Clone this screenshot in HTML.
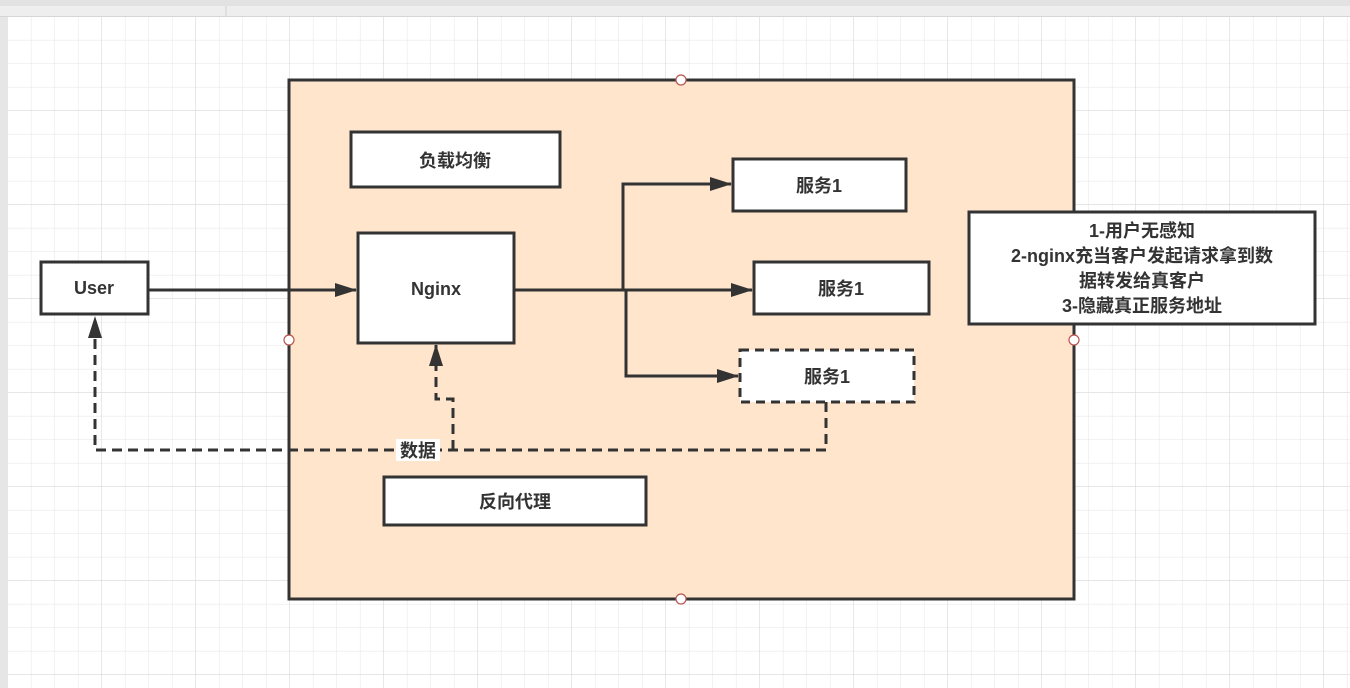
<!DOCTYPE html>
<html><head><meta charset="utf-8"><style>
html,body{margin:0;padding:0;width:1350px;height:688px;overflow:hidden;background:#fff}
svg{display:block}
text{font-family:"Liberation Sans","Noto Sans CJK SC",sans-serif;font-weight:bold;fill:#333;font-size:18px}
</style></head><body>
<svg width="1350" height="688" viewBox="0 0 1350 688" xmlns="http://www.w3.org/2000/svg">
<defs>
<pattern id="minor" width="23.5" height="23.5" patternUnits="userSpaceOnUse" x="8" y="17">
<path d="M23.5 0V23.5M0 23.5H23.5" stroke="#e9e9e9" stroke-width="1.2" fill="none"/>
</pattern>
<pattern id="major" width="94" height="94" patternUnits="userSpaceOnUse" x="8" y="17">
<path d="M94 0V94M0 94H94" stroke="#dadada" stroke-width="1.2" fill="none"/>
</pattern>
<marker id="ar2" markerWidth="22" markerHeight="14" refX="21" refY="7" orient="auto" markerUnits="userSpaceOnUse" viewBox="0 0 22 14">
<path d="M0 0L22 7L0 14Z" fill="#333"/>
</marker>
</defs>
<rect x="0" y="0" width="1350" height="6" fill="#e2e2e2"/>
<rect x="0" y="6" width="1350" height="11" fill="#eeeeee"/>
<line x1="0" y1="16.5" x2="1350" y2="16.5" stroke="#d6d6d6"/>
<line x1="226" y1="6" x2="226" y2="16" stroke="#d0d0d0"/>
<rect x="0" y="17" width="8" height="671" fill="#e6e6e6"/>
<rect x="8" y="17" width="1342" height="671" fill="#fff"/>
<rect x="8" y="17" width="1342" height="671" fill="url(#minor)"/>
<rect x="8" y="17" width="1342" height="671" fill="url(#major)"/>

<rect x="289" y="80" width="785" height="519" fill="#ffe5cc" stroke="#333" stroke-width="3"/>

<g stroke="#333" stroke-width="3" fill="#fff">
<rect x="351" y="132" width="209" height="55"/>
<rect x="358" y="233" width="156" height="110"/>
<rect x="41" y="262" width="107" height="52"/>
<rect x="733" y="159" width="173" height="52"/>
<rect x="754" y="262" width="175" height="52"/>
<rect x="740" y="350" width="174" height="52" stroke-dasharray="9,6"/>
<rect x="969" y="212" width="346" height="112"/>
<rect x="384" y="477" width="262" height="48"/>
</g>

<g stroke="#333" stroke-width="3" fill="none">
<path d="M148 290H356" marker-end="url(#ar2)"/>
<path d="M514 290H752" marker-end="url(#ar2)"/>
<path d="M623 290V184H731" marker-end="url(#ar2)"/>
<path d="M626 290V376H738" marker-end="url(#ar2)"/>
<path d="M826 402V450H95V317" stroke-dasharray="10,6" marker-end="url(#ar2)"/>
<path d="M453 450V399H436V345" stroke-dasharray="10,6" marker-end="url(#ar2)"/>
</g>
<rect x="396" y="439" width="44" height="22" fill="#fff"/>
<text x="418" y="457" text-anchor="middle" font-size="18">数据</text>

<text x="455" y="167" text-anchor="middle">负载均衡</text>
<text x="436" y="295" text-anchor="middle">Nginx</text>
<text x="94" y="294" text-anchor="middle">User</text>
<text x="819" y="192" text-anchor="middle">服务1</text>
<text x="841" y="295" text-anchor="middle">服务1</text>
<text x="827" y="383" text-anchor="middle">服务1</text>
<text x="515" y="508" text-anchor="middle">反向代理</text>
<text x="1142" y="237" text-anchor="middle">1-用户无感知</text>
<text x="1142" y="262" text-anchor="middle">2-nginx充当客户发起请求拿到数</text>
<text x="1142" y="287" text-anchor="middle">据转发给真客户</text>
<text x="1142" y="312" text-anchor="middle">3-隐藏真正服务地址</text>

<g fill="#fff" stroke="#b85450" stroke-width="1.2">
<circle cx="681" cy="80" r="5"/>
<circle cx="289" cy="340" r="5"/>
<circle cx="1074" cy="340" r="5"/>
<circle cx="681" cy="599" r="5"/>
</g>
</svg>
</body></html>
